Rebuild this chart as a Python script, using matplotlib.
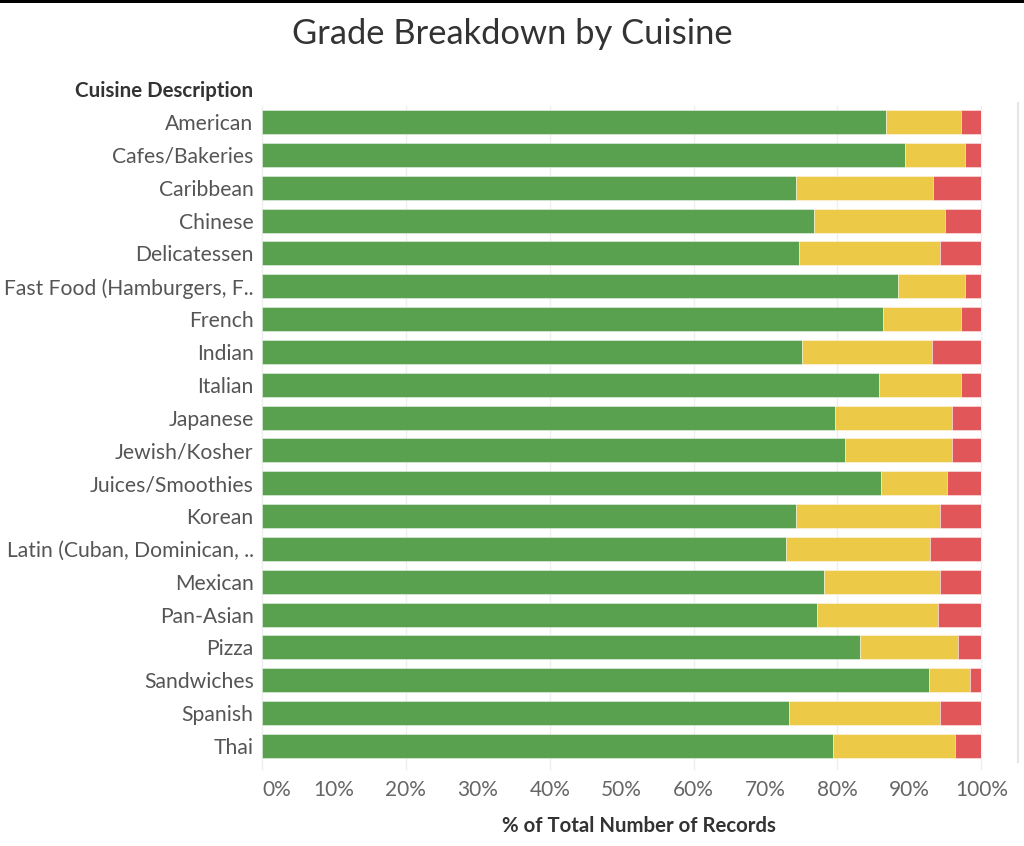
import matplotlib
matplotlib.use("Agg")
import matplotlib.pyplot as plt
from matplotlib.patches import Rectangle
from matplotlib.lines import Line2D

cuisines = ["American", "Cafes/Bakeries", "Caribbean", "Chinese", "Delicatessen",
            "Fast Food (Hamburgers, F..", "French", "Indian", "Italian", "Japanese",
            "Jewish/Kosher", "Juices/Smoothies", "Korean", "Latin (Cuban, Dominican, ..",
            "Mexican", "Pan-Asian", "Pizza", "Sandwiches", "Spanish", "Thai"]
grade_a = [86.75, 89.4, 74.2, 76.7, 74.6, 88.4, 86.3, 75.1, 85.8, 79.7,
           81.0, 86.1, 74.2, 72.8, 78.1, 77.2, 83.1, 92.7, 73.3, 79.4]
grade_a_b = [97.2, 97.7, 93.3, 95.0, 94.3, 97.7, 97.2, 93.1, 97.2, 95.9,
             95.9, 95.2, 94.3, 92.9, 94.3, 94.0, 96.8, 98.4, 94.3, 96.3]
grade_b = [ab - a for a, ab in zip(grade_a, grade_a_b)]
grade_c = [100 - ab for ab in grade_a_b]
x_ticks = list(range(0, 101, 10))
x_labels = [f"{t}%" for t in x_ticks]

FONT = "Lato"
plt.rcParams['font.family'] = [FONT, 'DejaVu Sans']

W, H = 1024, 846
fig = plt.figure(figsize=(W / 100, H / 100), dpi=100)
fig.patch.set_facecolor("white")

ax_left, ax_right = 262, 981.3
ax_top, ax_bottom = 105.6, 762.4
ax = fig.add_axes([ax_left / W, 1 - ax_bottom / H, (ax_right - ax_left) / W, (ax_bottom - ax_top) / H])

green, yellow, red = "#59A14F", "#EDC948", "#E15759"
n = len(cuisines)
ys = list(range(n))
h = 0.73
kw = dict(height=h, edgecolor=(1, 1, 1, 0.5), linewidth=0.6, zorder=3)
ax.barh(ys, grade_a, color=green, **kw)
ax.barh(ys, grade_b, left=grade_a, color=yellow, **kw)
ax.barh(ys, grade_c, left=grade_a_b, color=red, **kw)

ax.set_xlim(0, 100)
ax.set_ylim(n - 0.5, -0.5)
for s in ax.spines.values():
    s.set_visible(False)

# gridlines every 20%
for g in range(0, 101, 20):
    ax.add_line(Line2D([g, g], [-0.5, n - 0.5 + 0.2], color="#efefef", lw=1.0, zorder=1, clip_on=False))

ax.set_yticks(ys)
ax.set_yticklabels(cuisines, fontsize=15.2, color="#555555")
ax.tick_params(axis="y", length=0, pad=6)

ax.set_xticks(x_ticks)
ax.set_xticklabels(x_labels, fontsize=15, color="#666666")
ax.tick_params(axis="x", length=0, pad=13)
ax.get_xticklabels()[0].set_horizontalalignment("left")

# title and headers
fig.text(0.5, 1 - 34 / H, "Grade Breakdown by Cuisine", ha="center", va="center",
         fontsize=24.8, color="#333333")
fig.text(253 / W, 1 - 91 / H, "Cuisine Description", ha="right", va="center",
         fontsize=14.8, fontweight="bold", color="#333333")
fig.text(639 / W, 1 - 826 / H, "% of Total Number of Records", ha="center", va="center",
         fontsize=14.7, fontweight="bold", color="#333333")

# top black border and right separator
fig.add_artist(Rectangle((0, 1 - 3 / H), 1, 3 / H, transform=fig.transFigure, color="black", lw=0))
fig.add_artist(Line2D([1018 / W, 1018 / W], [1 - 103 / H, 1 - 762 / H], transform=fig.transFigure,
                      color="#e6e6e6", lw=1.5))

fig.savefig("out.png", dpi=100, facecolor="white")
